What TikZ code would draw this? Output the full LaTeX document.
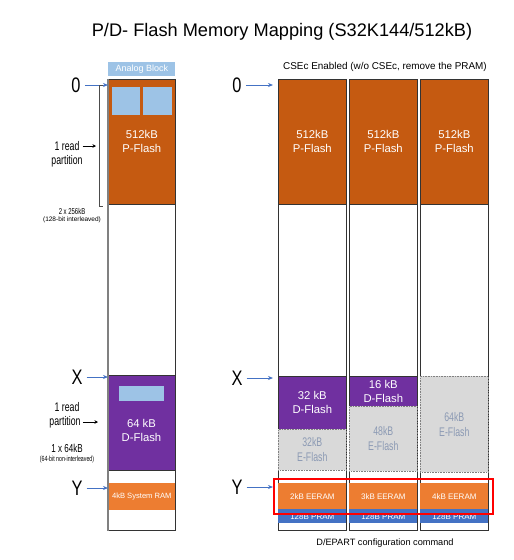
\documentclass[tikz,border=0pt]{standalone}
\usepackage{fontspec}
\setmainfont{Liberation Sans}
\newfontfamily\narrowfont[FakeStretch=0.7]{Liberation Sans}
\newfontfamily\addrfont[FakeStretch=0.78]{Liberation Sans}
\usepackage{xcolor}
\usepackage{tikz}
\usetikzlibrary{positioning,arrows.meta}

\definecolor{pflash}{HTML}{C55A11}
\definecolor{dflash}{HTML}{7030A0}
\definecolor{eeram}{HTML}{ED7D31}
\definecolor{pram}{HTML}{4472C4}
\definecolor{analog}{HTML}{9DC3E6}
\definecolor{eflash}{HTML}{D9D9D9}
\definecolor{eftext}{HTML}{8C9AB4}
\definecolor{ptr}{HTML}{4472C4}

\begin{document}
\begin{tikzpicture}[x=1pt,y=-1pt,
  blk/.style={draw=black!80,line width=0.6pt,anchor=north west,inner sep=0pt,align=center,text=white},
  col/.style={draw=black!80,line width=0.8pt,fill=white,anchor=north west,inner sep=0pt},
  efl/.style={blk,fill=eflash,draw=gray,densely dotted,text=eftext,font=\narrowfont\fontsize{12.5}{15}\selectfont},
  big/.style={font=\fontsize{11.3}{14}\selectfont},
  small/.style={font=\fontsize{8}{9}\selectfont},
  addr/.style={font=\addrfont\fontsize{21}{21}\selectfont,inner sep=1pt},
  lab/.style={font=\narrowfont\fontsize{12.5}{15}\selectfont,align=center,inner sep=0pt},
  tiny/.style={font=\fontsize{6.5}{8}\selectfont,inner sep=0pt},
  arr/.style={-{Stealth[length=5pt,width=4pt]},ptr,line width=0.8pt},
  parr/.style={-{Stealth[length=3.5pt,width=3.5pt]},black,line width=0.9pt}]
  \useasboundingbox (0,0) rectangle (514,560);

  \node[font=\fontsize{18.2}{21}\selectfont] (title) at (282,32) {P/D- Flash Memory Mapping (S32K144/512kB)};
  \node[font=\fontsize{9.9}{11}\selectfont] (csec) at (385,67) {CSEc Enabled (w/o CSEc, remove the PRAM)};

  % left column
  \node[col,minimum width=67pt,minimum height=451pt] (colL) at (108,79) {};
  \node[blk,fill=analog,draw=none,minimum width=67pt,minimum height=14pt,font=\fontsize{9}{10}\selectfont] (analog) at (108,62) {Analog Block};
  \node[blk,fill=pflash,big,minimum width=67pt,minimum height=125pt] (pfL) at (108,79) {512kB\\P-Flash};
  \node[blk,fill=analog,draw=none,minimum width=28pt,minimum height=28pt] (sqA) at (112,87) {};
  \node[blk,fill=analog,draw=none,minimum width=29pt,minimum height=28pt] (sqB) at (143,87) {};
  \node[blk,fill=dflash,minimum width=67pt,minimum height=95pt] (dfL) at (108,375) {};
  \node[blk,fill=analog,draw=none,minimum width=45pt,minimum height=15pt] (sqC) at (119,386) {};
  \node[big,text=white,align=center] (dfLtxt) at (141.5,430) {64 kB\\D-Flash};
  \node[blk,fill=eeram,draw=none,font=\fontsize{7.6}{9}\selectfont,minimum width=67pt,minimum height=27pt] (ramL) at (108,483) {4kB System RAM};
  \draw[gray,line width=1.5pt] (colL.north west) -- (colL.south west);

  \node[addr] (o0L) at (76,85) {0};
  \node[addr] (oXL) at (77,377) {X};
  \node[addr] (oYL) at (77,488) {Y};
  \draw[arr,shorten <=3pt] (o0L.east) -- (o0L.east -| colL.west);
  \draw[arr,shorten <=3pt] (oXL.east) -- (oXL.east -| colL.west);
  \draw[arr,shorten <=3pt] (oYL.east) -- (oYL.east -| colL.west);

  % bracket and partitions
  \coordinate (brT) at (99,85);
  \coordinate (brB) at (99,206);
  \coordinate (brM) at (96,146);
  \draw[black!70,line width=0.8pt] ([xshift=4pt]brT) -- (brT) -- (brB) -- ([xshift=4pt]brB);
  \node[lab] (rd1) at (67,146) {1 read};
  \node[lab] (part1) at (67,161) {partition};
  \draw[parr] (rd1.east) ++(3pt,0) -- (brM);
  \node[tiny,font=\narrowfont\fontsize{8.5}{9}\selectfont] (sz1) at (72,211) {2 x 256kB};
  \node[tiny] (il1) at (72,220) {(128-bit interleaved)};

  \coordinate (pm2) at (98,422);
  \node[lab] (rd2) at (67,407) {1 read};
  \node[lab] (part2) at (65,422) {partition};
  \draw[parr] (part2.east) ++(2pt,0) -- (pm2);
  \node[lab,font=\narrowfont\fontsize{11.5}{13}\selectfont] (sz2) at (67,448) {1 x 64kB};
  \node[tiny,font=\narrowfont\fontsize{7.5}{9}\selectfont] (il2) at (67,460) {(64-bit non-interleaved)};

  % right columns
  \foreach \n/\x/\ee in {1/278/2kB,2/349/3kB,3/420/4kB} {
    \node[col,minimum width=68pt,minimum height=451pt] (col\n) at (\x,79) {};
    \node[blk,fill=pflash,big,minimum width=68pt,minimum height=125pt] (pf\n) at (\x,79) {512kB\\P-Flash};
    \node[blk,fill=eeram,draw=none,small,minimum width=68pt,minimum height=26pt] (ee\n) at (\x,483) {\ee{} EERAM};
    \node[blk,fill=pram,draw=none,small,minimum width=68pt,minimum height=14pt] (pr\n) at (\x,509) {128B PRAM};
  }
  \node[blk,fill=dflash,big,minimum width=68pt,minimum height=53pt] (df1) at (278,376) {32 kB\\D-Flash};
  \node[efl,minimum width=68pt,minimum height=41pt] (ef1) at (278,429) {32kB\\E-Flash};
  \node[blk,fill=dflash,big,minimum width=68pt,minimum height=30pt] (df2) at (349,376) {16 kB\\D-Flash};
  \node[efl,minimum width=68pt,minimum height=65pt] (ef2) at (349,406) {48kB\\E-Flash};
  \node[efl,minimum width=68pt,minimum height=96pt] (ef3) at (420,376) {64kB\\E-Flash};

  \node[draw=red,line width=2pt,anchor=north west,inner sep=0pt,minimum width=219pt,minimum height=35pt] (sel) at (273,478) {};

  \node[addr] (o0R) at (237,85) {0};
  \node[addr] (oXR) at (237,378) {X};
  \node[addr] (oYR) at (237,487) {Y};
  \draw[arr,shorten <=3pt] (o0R.east) -- (o0R.east -| sel.west);
  \draw[arr,shorten <=3pt] (oXR.east) -- (oXR.east -| sel.west);
  \draw[arr,shorten <=3pt] (oYR.east) -- (oYR.east -| sel.west);

  \node[font=\fontsize{9.2}{11}\selectfont] (cmd) at (385,543) {D/EPART configuration command};
\end{tikzpicture}
\end{document}
